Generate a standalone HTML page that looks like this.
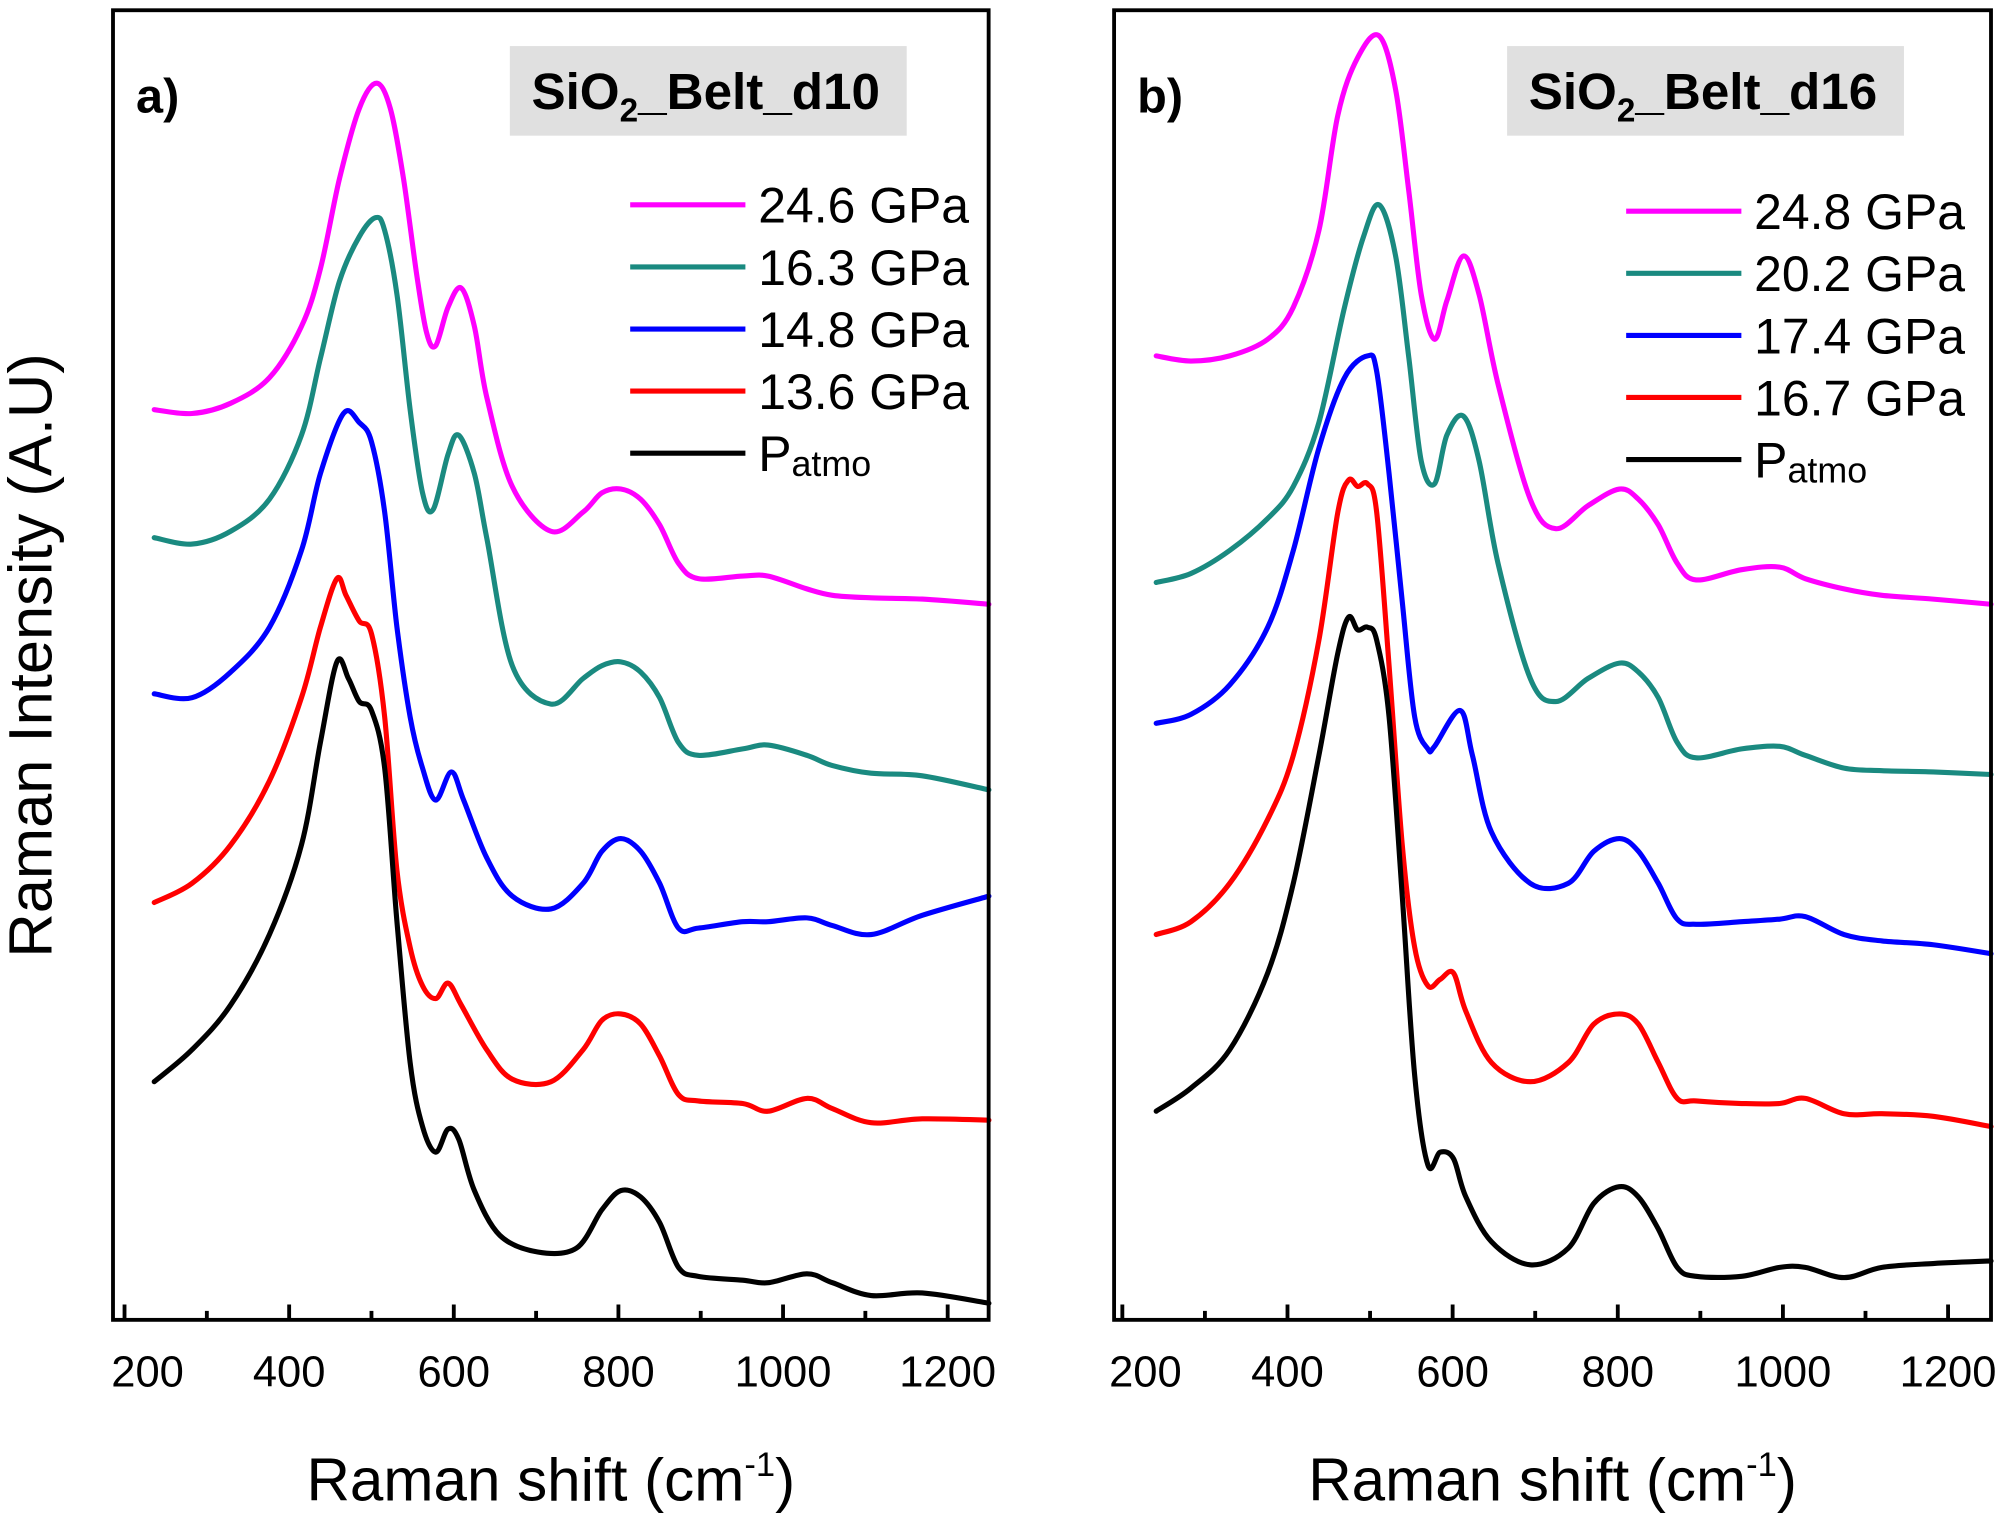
<!DOCTYPE html>
<html><head><meta charset="utf-8"><style>
html,body{margin:0;padding:0;background:#fff}
svg{display:block}
text{font-family:"Liberation Sans",Arial,sans-serif}
</style></head><body>
<svg id="chart" width="2008" height="1517" viewBox="0 0 1568 1185" xmlns="http://www.w3.org/2000/svg">
<g id="layer"></g>
</svg>
<script>
// Panel a data (x in cm-1, intensity in a.u.)
const aBlackX=[236,282,329,376,415,438,458,472,485,500,516,531,547,562,578,593,606,625,656,702,749,780,803,827,850,873,897,951,982,1029,1060,1107,1169,1250];
const aBlackY=[186,211,246,301,371,451,514,501,483,476,431,311,201,151,131,149,141,101,66,53,56,86,101,96,76,41,34,31,29,36,29,19,21,13];
const aRedX=[236,282,329,376,415,438,458,469,485,500,516,531,547,562,578,593,609,640,671,718,757,780,803,827,850,873,897,951,982,1029,1060,1107,1169,1250];
const aRedY=[326,341,371,421,486,541,579,566,546,536,471,351,291,261,251,263,246,211,188,186,211,234,239,231,206,176,171,169,163,173,165,154,157,156];
const aBlueX=[236,282,329,376,415,438,466,485,500,516,531,547,562,578,597,612,640,671,718,757,780,803,827,850,873,897,951,982,1029,1060,1107,1169,1250];
const aBlueY=[489,486,506,541,601,661,708,701,686,631,541,471,431,406,428,406,361,331,321,341,366,376,366,341,306,306,311,311,314,308,301,316,331];
const aTealX=[236,282,329,376,415,438,461,485,505,516,531,547,562,575,593,606,625,640,671,718,757,780,803,827,850,873,897,951,982,1029,1060,1107,1169,1250];
const aTealY=[611,606,616,641,691,751,811,846,861,851,801,711,646,633,676,691,661,611,511,481,501,511,514,506,486,451,441,446,449,441,433,427,425,414];
const aMagX=[236,282,329,376,415,438,461,485,506,523,539,555,567,578,593,609,625,640,671,718,757,780,803,827,850,873,897,951,982,1029,1060,1107,1169,1250];
const aMagY=[711,708,716,736,776,821,891,946,966,946,891,816,771,761,791,806,776,721,651,616,631,646,649,641,621,591,579,581,581,571,566,564,563,559];
// Panel b data
const bBlackX=[241,283,330,376,407,438,461,474,485,497,508,523,539,554,570,585,601,616,647,694,740,771,802,825,849,872,895,950,996,1027,1074,1120,1182,1252];
const bBlackY=[163,181,211,271,341,441,521,549,539,541,531,471,331,191,121,131,126,96,61,43,56,91,104,96,71,41,34,34,41,41,33,41,44,46];
const bRedX=[241,283,330,376,407,438,461,474,485,497,508,523,539,554,570,585,601,616,647,694,740,771,802,825,849,872,895,950,996,1027,1074,1120,1182,1252];
const bRedY=[301,311,341,391,441,531,631,656,651,653,631,511,371,291,261,266,271,241,201,186,201,231,239,231,201,173,171,169,169,173,161,161,159,151];
const bBlueX=[241,283,330,376,407,438,469,497,508,523,539,554,570,578,609,624,647,694,740,771,802,825,849,872,895,950,996,1027,1074,1120,1182,1252];
const bBlueY=[466,473,496,541,601,681,736,753,741,661,561,471,446,448,476,441,381,341,341,366,376,366,341,313,309,311,313,315,301,296,293,286];
const bTealX=[241,283,330,376,407,438,469,492,511,531,547,562,578,593,613,632,655,694,725,764,802,825,849,872,895,950,996,1027,1074,1120,1182,1252];
const bTealY=[576,583,601,626,651,701,791,846,871,831,751,671,653,691,706,671,591,501,483,501,513,506,486,451,439,446,448,441,431,429,428,426];
const bMagX=[241,283,330,376,407,438,461,485,511,531,547,562,578,593,613,632,655,694,725,764,802,825,849,872,895,950,996,1027,1074,1120,1182,1252];
const bMagY=[753,749,753,766,791,851,941,986,1003,961,881,801,766,796,831,801,731,641,618,636,649,641,621,591,578,586,588,579,571,566,563,559];

const xTicksMajor=[200,400,600,800,1000,1200];
const legendA=["24.6 GPa","16.3 GPa","14.8 GPa","13.6 GPa"];
const legendB=["24.8 GPa","20.2 GPa","17.4 GPa","16.7 GPa"];
const colors=["#ff00ff","#1a8a80","#0000ff","#ff0000","#000000"];

const NS="http://www.w3.org/2000/svg";
const layer=document.getElementById('layer');
function mk(tag,attrs,parent){const e=document.createElementNS(NS,tag);for(const k in attrs)e.setAttribute(k,attrs[k]);(parent||layer).appendChild(e);return e;}
function yPix(v){return 1031-v;}
function path(pts){
  let d="M"+pts[0][0].toFixed(1)+","+pts[0][1].toFixed(1);
  for(let i=0;i<pts.length-1;i++){
    const p0=pts[Math.max(0,i-1)],p1=pts[i],p2=pts[i+1],p3=pts[Math.min(pts.length-1,i+2)];
    const c1=[p1[0]+(p2[0]-p0[0])/6,p1[1]+(p2[1]-p0[1])/6];
    const c2=[p2[0]-(p3[0]-p1[0])/6,p2[1]-(p3[1]-p1[1])/6];
    d+="C"+c1[0].toFixed(1)+","+c1[1].toFixed(1)+" "+c2[0].toFixed(1)+","+c2[1].toFixed(1)+" "+p2[0].toFixed(1)+","+p2[1].toFixed(1);
  }
  return d;
}
function panel(cfg){
  const g=mk('g',{});
  
  
  const xs=v=>cfg.left+(v-cfg.xmin)*cfg.scale;
  const series=cfg.series;
  series.forEach((s,i)=>{
    const pts=s.x.map((xv,j)=>[xs(xv),yPix(s.y[j])]);
    const p=mk('path',{d:path(pts),fill:'none',stroke:s.c,'stroke-width':4,'stroke-linejoin':'round','stroke-linecap':'round'},g);
    
    
  });
  const fr=mk('rect',{x:cfg.left,y:8,width:cfg.right-cfg.left,height:1023,fill:'none',stroke:'#000','stroke-width':3},g);
  
  
  for(let v=200;v<=1250;v+=100){
    const px=xs(v); if(px<cfg.left||px>cfg.right)continue;
    const major=xTicksMajor.includes(v);
    const t=mk('line',{x1:px,x2:px,y1:1031,y2:1031-(major?12:7),stroke:'#000','stroke-width':3},g);
    
    
  }
  xTicksMajor.forEach(v=>{
    let px=xs(v); if(v===200) px+=18;
    const tl=mk('text',{x:px,y:1083,'font-size':34,'text-anchor':'middle'},g);
    tl.textContent=v;
    
    
  });
  const xt=mk('text',{x:(cfg.left+cfg.right)/2,y:1172,'font-size':47,'text-anchor':'middle'},g);
  xt.innerHTML='Raman shift (cm<tspan dy="-19" font-size="27">-1</tspan><tspan dy="19">)</tspan>';
  
  
  const pl=mk('text',{x:cfg.left+18,y:88,'font-size':38,'font-weight':'bold'},g);
  pl.textContent=cfg.label;
  
  
  const tb=mk('rect',{x:cfg.boxX,y:36,width:310,height:70,fill:'#e0e0e0'},g);
  
  
  const tt=mk('text',{x:cfg.boxX+153,y:85,'font-size':40,'font-weight':'bold','text-anchor':'middle'},g);
  tt.innerHTML='SiO<tspan dy="10" font-size="26">2</tspan><tspan dy="-10">'+cfg.title+'</tspan>';
  
  
  series.forEach((s,i)=>{
    const ly=cfg.legY+i*48.5;
    const ll=mk('line',{x1:cfg.legX,x2:cfg.legX+90,y1:ly,y2:ly,stroke:s.c,'stroke-width':4},g);
    
    
    const lt=mk('text',{x:cfg.legX+100,y:ly+14,'font-size':39},g);
    if(s.n==='Patmo'){lt.innerHTML='P<tspan font-size="28" dy="4">atmo</tspan>';}
    else lt.textContent=s.n;
    
    
  });
}
panel({name:'panel-a',left:88,right:772,xmin:186,scale:0.643,label:'a)',boxX:398,title:'_Belt_d10',legX:492,legY:160,
 series:[{x:aMagX,y:aMagY,c:colors[0],n:legendA[0]},{x:aTealX,y:aTealY,c:colors[1],n:legendA[1]},{x:aBlueX,y:aBlueY,c:colors[2],n:legendA[2]},{x:aRedX,y:aRedY,c:colors[3],n:legendA[3]},{x:aBlackX,y:aBlackY,c:colors[4],n:'Patmo'}]});
panel({name:'panel-b',left:870,right:1555,xmin:190,scale:0.645,label:'b)',boxX:1177,title:'_Belt_d16',legX:1270,legY:165,
 series:[{x:bMagX,y:bMagY,c:colors[0],n:legendB[0]},{x:bTealX,y:bTealY,c:colors[1],n:legendB[1]},{x:bBlueX,y:bBlueY,c:colors[2],n:legendB[2]},{x:bRedX,y:bRedY,c:colors[3],n:legendB[3]},{x:bBlackX,y:bBlackY,c:colors[4],n:'Patmo'}]});
const yt=mk('text',{x:0,y:0,'font-size':48,'text-anchor':'middle',transform:'translate(40,512) rotate(-90)'});
yt.textContent='Raman Intensity (A.U)';


</script>
</body></html>
